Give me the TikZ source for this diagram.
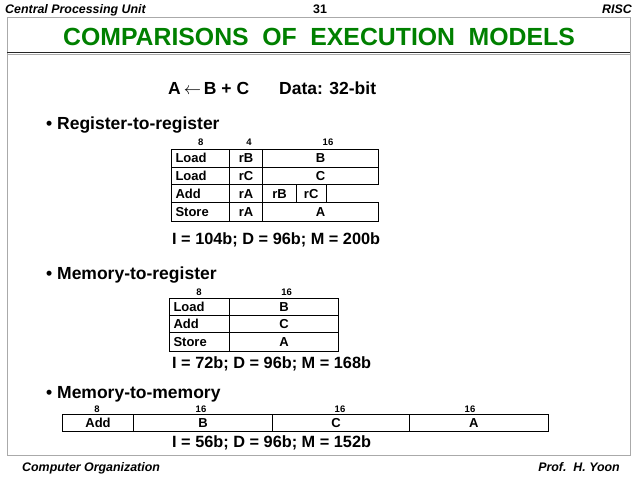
\documentclass[tikz,border=0pt]{standalone}
\usepackage{fontspec}
\setmainfont{Liberation Sans}
\definecolor{titlegreen}{RGB}{0,128,0}
\definecolor{framegray}{RGB}{170,170,170}
\begin{document}
\begin{tikzpicture}[x=1pt,y=-1pt,
  txt/.style={inner sep=0pt, anchor=base west, font=\bfseries\fontsize{17.5}{20}\selectfont},
  hdr/.style={inner sep=0pt, font=\bfseries\itshape\fontsize{12.4}{14}\selectfont},
  bits/.style={inner sep=0pt, anchor=base, font=\bfseries\fontsize{9.5}{11}\selectfont},
  cell/.style={draw, line width=1pt, inner sep=0pt, anchor=north west, font=\bfseries\fontsize{13}{15}\selectfont},
  opcell/.style={cell, text width=#1, align=left, inner xsep=4pt},
]
\useasboundingbox (0,0) rectangle (638,478);
% frame
\draw[framegray, line width=0.9pt] (7,17) rectangle (630,455);
\draw[black!85, line width=1.8pt] (7,52.5) -- (630,52.5);
\draw[framegray, line width=0.8pt] (7,54.5) -- (630,54.5);
% header and footer
\node[hdr, anchor=base west] (hl) at (5,14) {Central Processing Unit};
\node[hdr, anchor=base, font=\bfseries\fontsize{12.4}{14}\selectfont] (hc) at (320,14) {31};
\node[hdr, anchor=base east] (hr) at (632,14) {RISC};
\node[hdr, anchor=base west] (fl) at (22,472) {Computer Organization};
\node[hdr, anchor=base east] (fr) at (620,472) {Prof.\ \ H.\ Yoon};
% title
\node[inner sep=0pt, anchor=base, text=titlegreen, font=\bfseries\fontsize{24.8}{28}\selectfont] (title) at (319,46)
  {COMPARISONS\hskip0.55em OF\hskip0.55em EXECUTION\hskip0.55em MODELS};
% statement
\node[txt] (stmt) at (168,95) {A\,$\leftarrow$\,B + C};
\node[txt] (data) at (279,95) {Data: 32-bit};
% register-to-register
\node[txt] (b1) at (46,130) {\textbullet\ Register-to-register};
\node[bits] (rr8) at (200.7,146) {8};
\node[bits] (rr4) at (249,146) {4};
\node[bits] (rr16) at (328,146) {16};
\node[opcell=50pt, minimum height=17.7pt] (rrop1) at (171,149) {Load};
\node[cell, minimum width=33.3pt, minimum height=17.7pt] (rrr1) at (229,149) {rB};
\node[cell, minimum width=115.7pt, minimum height=17.7pt] (rra1) at (262.3,149) {B};
\node[opcell=50pt, minimum height=17.7pt] (rrop2) at (171,166.7) {Load};
\node[cell, minimum width=33.3pt, minimum height=17.7pt] (rrr2) at (229,166.7) {rC};
\node[cell, minimum width=115.7pt, minimum height=17.7pt] (rra2) at (262.3,166.7) {C};
\node[opcell=50pt, minimum height=17.7pt] (rrop3) at (171,184.4) {Add};
\node[cell, minimum width=33.3pt, minimum height=17.7pt] (rrr3) at (229,184.4) {rA};
\node[cell, minimum width=33.4pt, minimum height=17.7pt] (rrb3) at (262.3,184.4) {rB};
\node[cell, minimum width=30pt, minimum height=17.7pt] (rrc3) at (295.7,184.4) {rC};
\node[opcell=50pt, minimum height=18.5pt] (rrop4) at (171,202.1) {Store};
\node[cell, minimum width=33.3pt, minimum height=18.5pt] (rrr4) at (229,202.1) {rA};
\node[cell, minimum width=115.7pt, minimum height=18.5pt] (rra4) at (262.3,202.1) {A};
\node[txt, font=\bfseries\fontsize{16.3}{19}\selectfont] (res1) at (172,245) {I = 104b; D = 96b; M = 200b};
% memory-to-register
\node[txt] (b2) at (46,280) {\textbullet\ Memory-to-register};
\node[bits] (mr8) at (199,295.5) {8};
\node[bits] (mr16) at (286.7,295.5) {16};
\node[opcell=52pt, minimum height=17.3pt] (mrop1) at (169,297.7) {Load};
\node[cell, minimum width=109.3pt, minimum height=17.3pt] (mra1) at (229,297.7) {B};
\node[opcell=52pt, minimum height=17.3pt] (mrop2) at (169,315) {Add};
\node[cell, minimum width=109.3pt, minimum height=17.3pt] (mra2) at (229,315) {C};
\node[opcell=52pt, minimum height=18.4pt] (mrop3) at (169,332.3) {Store};
\node[cell, minimum width=109.3pt, minimum height=18.4pt] (mra3) at (229,332.3) {A};
\node[txt, font=\bfseries\fontsize{16.3}{19}\selectfont] (res2) at (172,369) {I = 72b; D = 96b; M = 168b};
% memory-to-memory
\node[txt] (b3) at (46,399) {\textbullet\ Memory-to-memory};
\node[bits] (mm8) at (97,412.3) {8};
\node[bits] (mm16a) at (201,412.3) {16};
\node[bits] (mm16b) at (340,412.3) {16};
\node[bits] (mm16c) at (470,412.3) {16};
\node[cell, minimum width=71pt, minimum height=16.7pt] (mmop) at (62,414) {Add};
\node[cell, minimum width=139pt, minimum height=16.7pt] (mmb) at (133,414) {B};
\node[cell, minimum width=137pt, minimum height=16.7pt] (mmc) at (272,414) {\hspace*{-10pt}C};
\node[cell, minimum width=138.7pt, minimum height=16.7pt] (mma) at (409,414) {\hspace*{-10pt}A};
\node[txt, font=\bfseries\fontsize{16.3}{19}\selectfont] (res3) at (172,448) {I = 56b; D = 96b; M = 152b};
\end{tikzpicture}
\end{document}
